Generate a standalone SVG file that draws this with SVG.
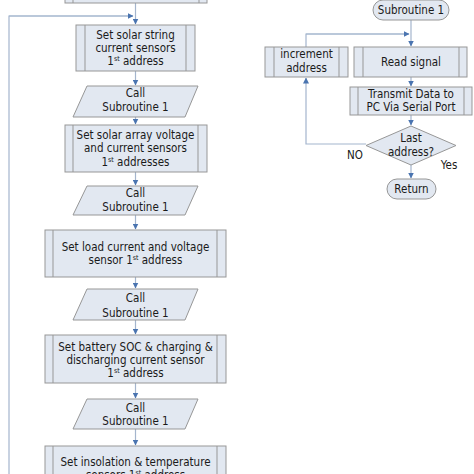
<svg xmlns="http://www.w3.org/2000/svg" width="474" height="474" viewBox="0 0 474 474">
<defs>
<marker id="ah" viewBox="0 0 6 6" refX="5.5" refY="3" markerWidth="6" markerHeight="6" orient="auto" markerUnits="userSpaceOnUse">
<path d="M0,0 L6,3 L0,6 z" fill="#4a74b0"/>
</marker>
<style>
.b{fill:#e2e8f1;stroke:#979797;stroke-width:1}
.in{stroke:#979797;stroke-width:1;fill:none}
.c{fill:none;stroke:#a4b5cd;stroke-width:1.2}
.ca{fill:none;stroke:#a4b5cd;stroke-width:1.2;marker-end:url(#ah)}
text{font-family:"DejaVu Sans Condensed","DejaVu Sans",Verdana,sans-serif;font-stretch:condensed;font-size:11.5px;fill:#1a1a1a;text-anchor:middle}
.sup{font-size:7px}
</style>
</defs>
<rect width="474" height="474" fill="#ffffff"/>
<g id="connectors">
<path class="c" d="M9,474 V16 H133"/>
<path class="ca" d="M135.5,3 V24"/>
<path class="ca" d="M135.5,71 V85"/>
<path class="ca" d="M135.5,117 V124"/>
<path class="ca" d="M135.5,172 V185"/>
<path class="ca" d="M135.5,215 V229"/>
<path class="ca" d="M135.5,277 V288"/>
<path class="ca" d="M135.5,320 V334"/>
<path class="ca" d="M135.5,383 V398"/>
<path class="ca" d="M135.5,429 V445"/>
<path class="ca" d="M9,16 H133"/>
<path class="ca" d="M411,20 V46"/>
<path class="c" d="M306,47 V34 H409"/>
<path class="ca" d="M306,34 H409"/>
<path class="ca" d="M366,144 H306 V78"/>
<path class="ca" d="M411,77 V86"/>
<path class="ca" d="M411,115 V125"/>
<path class="ca" d="M411,165 V178"/>
</g>
<g id="n0">
<rect class="b" x="65" y="-20" width="142" height="23"/>
<path class="in" d="M73,-20 V3 M199,-20 V3"/>
</g>
<g id="n1">
<rect class="b" x="76" y="25" width="119" height="46"/>
<path class="in" d="M85,25 V71 M186,25 V71"/>
<text x="135.5" y="39">Set solar string</text>
<text x="135.5" y="52">current sensors</text>
<text x="135.5" y="65">1<tspan class="sup" dy="-4">st</tspan><tspan dy="4"> address</tspan></text>
</g>
<g id="p1">
<polygon class="b" points="87,86 198,86 185,117 73,117"/>
<text x="135.5" y="97">Call</text>
<text x="135.5" y="111">Subroutine 1</text>
</g>
<g id="n2">
<rect class="b" x="65" y="125" width="142" height="47"/>
<path class="in" d="M73,125 V172 M198,125 V172"/>
<text x="135.5" y="139">Set solar array voltage</text>
<text x="135.5" y="152">and current sensors</text>
<text x="135.5" y="166">1<tspan class="sup" dy="-4">st</tspan><tspan dy="4"> addresses</tspan></text>
</g>
<g id="p2">
<polygon class="b" points="87,186 198,186 185,215 73,215"/>
<text x="135.5" y="197">Call</text>
<text x="135.5" y="211">Subroutine 1</text>
</g>
<g id="n3">
<rect class="b" x="45" y="230" width="181" height="47"/>
<path class="in" d="M53,230 V277 M217,230 V277"/>
<text x="135.5" y="251">Set load current and voltage</text>
<text x="135.5" y="264">sensor 1<tspan class="sup" dy="-4">st</tspan><tspan dy="4"> address</tspan></text>
</g>
<g id="p3">
<polygon class="b" points="87,289 198,289 185,320 73,320"/>
<text x="135.5" y="302">Call</text>
<text x="135.5" y="317">Subroutine 1</text>
</g>
<g id="n4">
<rect class="b" x="45" y="335" width="181" height="48"/>
<path class="in" d="M53,335 V383 M217,335 V383"/>
<text x="135.5" y="351">Set battery SOC &amp; charging &amp;</text>
<text x="135.5" y="364">discharging current sensor</text>
<text x="135.5" y="377">1<tspan class="sup" dy="-4">st</tspan><tspan dy="4"> address</tspan></text>
</g>
<g id="p4">
<polygon class="b" points="87,399 198,399 185,429 73,429"/>
<text x="135.5" y="412">Call</text>
<text x="135.5" y="425">Subroutine 1</text>
</g>
<g id="n5">
<rect class="b" x="45" y="446" width="181" height="50"/>
<path class="in" d="M53,446 V496 M217,446 V496"/>
<text x="135.5" y="466">Set insolation &amp; temperature</text>
<text x="135.5" y="479">sensors 1<tspan class="sup" dy="-4">st</tspan><tspan dy="4"> address</tspan></text>
</g>
<g id="s1">
<rect class="b" x="373" y="0" width="76" height="20" rx="10"/>
<text x="411" y="14">Subroutine 1</text>
</g>
<g id="inc">
<rect class="b" x="265" y="47" width="83" height="30"/>
<path class="in" d="M274,47 V77 M339,47 V77"/>
<text x="306.5" y="58">increment</text>
<text x="306.5" y="72">address</text>
</g>
<g id="read">
<rect class="b" x="354" y="47" width="113" height="30"/>
<path class="in" d="M363,47 V77 M459,47 V77"/>
<text x="411" y="66">Read signal</text>
</g>
<g id="tx">
<rect class="b" x="350" y="87" width="122" height="28"/>
<path class="in" d="M358,87 V115 M464,87 V115"/>
<text x="411" y="98">Transmit Data to</text>
<text x="411" y="111">PC Via Serial Port</text>
</g>
<g id="dec">
<polygon class="b" points="411,126 456,145.5 411,165 366,145.5"/>
<text x="411" y="142">Last</text>
<text x="411" y="156">address?</text>
</g>
<g id="labels">
<text x="355" y="159">NO</text>
<text x="449" y="169">Yes</text>
</g>
<g id="ret">
<rect class="b" x="387" y="179" width="49" height="20" rx="10"/>
<text x="411.5" y="193">Return</text>
</g>
</svg>
